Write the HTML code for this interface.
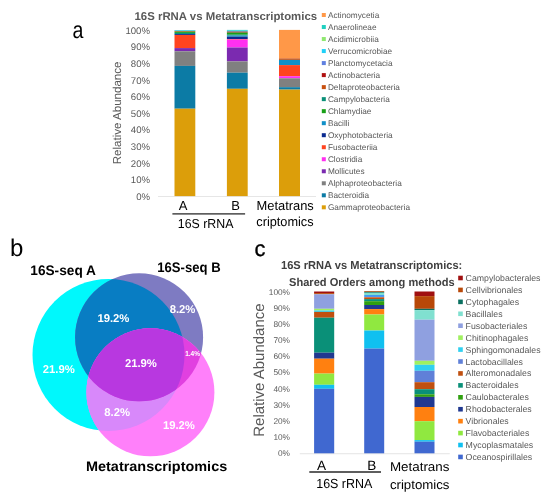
<!DOCTYPE html>
<html lang="en"><head><meta charset="utf-8"><title>16S rRNA vs Metatranscriptomics</title>
<style>html,body{margin:0;padding:0;background:#fff;}body{width:550px;height:495px;overflow:hidden;}svg{display:block;font-family:"Liberation Sans",sans-serif;text-rendering:geometricPrecision;}</style>
</head><body>
<svg width="550" height="495" viewBox="0 0 550 495">
<rect width="550" height="495" fill="#fff"/>
<g id="panel-a">
<text x="72.4" y="38.4" font-size="23.8" fill="#000" textLength="10.9" lengthAdjust="spacingAndGlyphs">a</text>
<text x="134.5" y="20.2" font-size="11.4" font-weight="bold" fill="#595959" textLength="182.6" lengthAdjust="spacingAndGlyphs">16S rRNA vs Metatranscriptomics</text>
<text x="150" y="33.70" font-size="9.6" fill="#595959" text-anchor="end">100%</text>
<text x="150" y="50.31" font-size="9.6" fill="#595959" text-anchor="end">90%</text>
<text x="150" y="66.92" font-size="9.6" fill="#595959" text-anchor="end">80%</text>
<text x="150" y="83.53" font-size="9.6" fill="#595959" text-anchor="end">70%</text>
<text x="150" y="100.14" font-size="9.6" fill="#595959" text-anchor="end">60%</text>
<text x="150" y="116.75" font-size="9.6" fill="#595959" text-anchor="end">50%</text>
<text x="150" y="133.36" font-size="9.6" fill="#595959" text-anchor="end">40%</text>
<text x="150" y="149.97" font-size="9.6" fill="#595959" text-anchor="end">30%</text>
<text x="150" y="166.58" font-size="9.6" fill="#595959" text-anchor="end">20%</text>
<text x="150" y="183.19" font-size="9.6" fill="#595959" text-anchor="end">10%</text>
<text x="150" y="199.80" font-size="9.6" fill="#595959" text-anchor="end">0%</text>
<text transform="translate(121.1,112.9) rotate(-90)" font-size="11.5" fill="#595959" text-anchor="middle" textLength="102.8" lengthAdjust="spacingAndGlyphs">Relative Abundance</text>
<rect x="158" y="196" width="158" height="0.9" fill="#e4e4e4"/>
<rect x="174.50" y="30.00" width="20.80" height="0.40" fill="#808080"/>
<rect x="174.50" y="30.40" width="20.80" height="0.60" fill="#20D0F8"/>
<rect x="174.50" y="31.00" width="20.80" height="0.70" fill="#C85010"/>
<rect x="174.50" y="31.70" width="20.80" height="1.20" fill="#18A018"/>
<rect x="174.50" y="32.90" width="20.80" height="1.20" fill="#0A9078"/>
<rect x="174.50" y="34.10" width="20.80" height="0.90" fill="#0A2A90"/>
<rect x="174.50" y="35.00" width="20.80" height="13.10" fill="#FF4420"/>
<rect x="174.50" y="48.10" width="20.80" height="3.20" fill="#7B2AB0"/>
<rect x="174.50" y="51.30" width="20.80" height="14.60" fill="#808080"/>
<rect x="174.50" y="65.90" width="20.80" height="42.80" fill="#0C7BA5"/>
<rect x="174.50" y="108.70" width="20.80" height="87.40" fill="#DC9E0A"/>
<rect x="226.90" y="29.90" width="20.80" height="0.80" fill="#20D0C0"/>
<rect x="226.90" y="30.70" width="20.80" height="0.90" fill="#20D0F8"/>
<rect x="226.90" y="31.60" width="20.80" height="1.00" fill="#B01010"/>
<rect x="226.90" y="32.60" width="20.80" height="2.10" fill="#18A018"/>
<rect x="226.90" y="34.70" width="20.80" height="0.90" fill="#0A9078"/>
<rect x="226.90" y="35.60" width="20.80" height="1.10" fill="#1090C8"/>
<rect x="226.90" y="36.70" width="20.80" height="2.30" fill="#0A2A90"/>
<rect x="226.90" y="39.00" width="20.80" height="0.60" fill="#FF4420"/>
<rect x="226.90" y="39.60" width="20.80" height="7.90" fill="#FF30F0"/>
<rect x="226.90" y="47.50" width="20.80" height="13.90" fill="#7B2AB0"/>
<rect x="226.90" y="61.40" width="20.80" height="11.30" fill="#808080"/>
<rect x="226.90" y="72.70" width="20.80" height="16.10" fill="#0C7BA5"/>
<rect x="226.90" y="88.80" width="20.80" height="107.30" fill="#DC9E0A"/>
<rect x="279.00" y="29.90" width="21.00" height="28.50" fill="#FF9848"/>
<rect x="279.00" y="58.40" width="21.00" height="1.50" fill="#D05010"/>
<rect x="279.00" y="59.90" width="21.00" height="5.20" fill="#1090C8"/>
<rect x="279.00" y="65.10" width="21.00" height="11.10" fill="#FF4420"/>
<rect x="279.00" y="76.20" width="21.00" height="2.10" fill="#FF30F0"/>
<rect x="279.00" y="78.30" width="21.00" height="8.90" fill="#808080"/>
<rect x="279.00" y="87.20" width="21.00" height="2.40" fill="#0C7BA5"/>
<rect x="279.00" y="89.60" width="21.00" height="106.50" fill="#DC9E0A"/>
<text x="183" y="210.3" font-size="13" fill="#000" text-anchor="middle">A</text>
<text x="235.6" y="210.2" font-size="13" fill="#000" text-anchor="middle">B</text>
<rect x="172.4" y="213.3" width="72.7" height="1.2" fill="#1a1a1a"/>
<text x="177.8" y="227.5" font-size="13" fill="#000" textLength="55.6" lengthAdjust="spacingAndGlyphs">16S rRNA</text>
<text x="256.5" y="209.8" font-size="13" fill="#000" textLength="57.3" lengthAdjust="spacingAndGlyphs">Metatrans</text>
<text x="256.3" y="226.2" font-size="13" fill="#000" textLength="57.3" lengthAdjust="spacingAndGlyphs">criptomics</text>
<rect x="321.8" y="13.00" width="4" height="4" fill="#FF9848"/>
<text x="327.9" y="17.90" font-size="8.25" fill="#595959">Actinomycetia</text>
<rect x="321.8" y="25.02" width="4" height="4" fill="#20D0C0"/>
<text x="327.9" y="29.92" font-size="8.25" fill="#595959">Anaerolineae</text>
<rect x="321.8" y="37.04" width="4" height="4" fill="#90E870"/>
<text x="327.9" y="41.94" font-size="8.25" fill="#595959">Acidimicrobiia</text>
<rect x="321.8" y="49.06" width="4" height="4" fill="#20D0F8"/>
<text x="327.9" y="53.96" font-size="8.25" fill="#595959">Verrucomicrobiae</text>
<rect x="321.8" y="61.08" width="4" height="4" fill="#6080E0"/>
<text x="327.9" y="65.98" font-size="8.25" fill="#595959">Planctomycetacia</text>
<rect x="321.8" y="73.10" width="4" height="4" fill="#B01010"/>
<text x="327.9" y="78.00" font-size="8.25" fill="#595959">Actinobacteria</text>
<rect x="321.8" y="85.12" width="4" height="4" fill="#C85010"/>
<text x="327.9" y="90.02" font-size="8.25" fill="#595959">Deltaproteobacteria</text>
<rect x="321.8" y="97.14" width="4" height="4" fill="#0A9078"/>
<text x="327.9" y="102.04" font-size="8.25" fill="#595959">Campylobacteria</text>
<rect x="321.8" y="109.16" width="4" height="4" fill="#18A018"/>
<text x="327.9" y="114.06" font-size="8.25" fill="#595959">Chlamydiae</text>
<rect x="321.8" y="121.18" width="4" height="4" fill="#1090C8"/>
<text x="327.9" y="126.08" font-size="8.25" fill="#595959">Bacilli</text>
<rect x="321.8" y="133.20" width="4" height="4" fill="#0A2A90"/>
<text x="327.9" y="138.10" font-size="8.25" fill="#595959">Oxyphotobacteria</text>
<rect x="321.8" y="145.22" width="4" height="4" fill="#FF4420"/>
<text x="327.9" y="150.12" font-size="8.25" fill="#595959">Fusobacteriia</text>
<rect x="321.8" y="157.24" width="4" height="4" fill="#FF30F0"/>
<text x="327.9" y="162.14" font-size="8.25" fill="#595959">Clostridia</text>
<rect x="321.8" y="169.26" width="4" height="4" fill="#7B2AB0"/>
<text x="327.9" y="174.16" font-size="8.25" fill="#595959">Mollicutes</text>
<rect x="321.8" y="181.28" width="4" height="4" fill="#808080"/>
<text x="327.9" y="186.18" font-size="8.25" fill="#595959">Alphaproteobacteria</text>
<rect x="321.8" y="193.30" width="4" height="4" fill="#0C7BA5"/>
<text x="327.9" y="198.20" font-size="8.25" fill="#595959">Bacteroidia</text>
<rect x="321.8" y="205.32" width="4" height="4" fill="#DC9E0A"/>
<text x="327.9" y="210.22" font-size="8.25" fill="#595959">Gammaproteobacteria</text>
</g>
<g id="panel-b">
<text x="10" y="255.8" font-size="24" fill="#000">b</text>
<defs>
<clipPath id="clipA"><circle cx="108.5" cy="355.0" r="76.0"/></clipPath>
<clipPath id="clipB"><circle cx="139.1" cy="337.3" r="64.0"/></clipPath>
<clipPath id="clipM"><circle cx="150.4" cy="392.3" r="64.0"/></clipPath>
</defs>
<circle cx="108.5" cy="355.0" r="76.0" fill="#00F8FC"/>
<circle cx="139.1" cy="337.3" r="64.0" fill="#7E7BC2"/>
<circle cx="150.4" cy="392.3" r="64.0" fill="#FF80FA"/>
<g clip-path="url(#clipA)"><circle cx="139.1" cy="337.3" r="64.0" fill="#087DC3"/><circle cx="150.4" cy="392.3" r="64.0" fill="#D888FA"/></g>
<g clip-path="url(#clipB)"><circle cx="150.4" cy="392.3" r="64.0" fill="#E140E0"/></g>
<g clip-path="url(#clipA)"><g clip-path="url(#clipB)"><circle cx="150.4" cy="392.3" r="64.0" fill="#B838E0"/></g></g>
<text x="30.3" y="275.4" font-size="13.8" font-weight="bold" fill="#000" textLength="65.6" lengthAdjust="spacingAndGlyphs">16S-seq A</text>
<text x="157.3" y="271.5" font-size="13.8" font-weight="bold" fill="#000" textLength="63.3" lengthAdjust="spacingAndGlyphs">16S-seq B</text>
<text x="86" y="471.1" font-size="13.9" font-weight="bold" fill="#000" textLength="141.2" lengthAdjust="spacingAndGlyphs">Metatranscriptomics</text>
<text x="113.4" y="321.8" font-size="11.3" font-weight="bold" fill="#fff" text-anchor="middle">19.2%</text>
<text x="182.5" y="312.6" font-size="11.3" font-weight="bold" fill="#fff" text-anchor="middle">8.2%</text>
<text x="58.8" y="373.2" font-size="11.3" font-weight="bold" fill="#fff" text-anchor="middle">21.9%</text>
<text x="140.9" y="366.5" font-size="11.3" font-weight="bold" fill="#fff" text-anchor="middle">21.9%</text>
<text x="117.2" y="415.7" font-size="11.3" font-weight="bold" fill="#fff" text-anchor="middle">8.2%</text>
<text x="178.9" y="428.7" font-size="11.3" font-weight="bold" fill="#fff" text-anchor="middle">19.2%</text>
<text x="185.2" y="356.2" font-size="7.2" font-weight="bold" fill="#fff" textLength="14.8" lengthAdjust="spacingAndGlyphs">1.4%</text>
</g>
<g id="panel-c">
<text x="254.5" y="255.8" font-size="21.9" fill="#000" stroke="#000" stroke-width="0.35">c</text>
<text x="281" y="269.3" font-size="11.5" font-weight="bold" fill="#404040" textLength="181.3" lengthAdjust="spacingAndGlyphs">16S rRNA vs Metatranscriptomics:</text>
<text x="289" y="285.6" font-size="11.5" font-weight="bold" fill="#404040" textLength="165.6" lengthAdjust="spacingAndGlyphs">Shared Orders among methods</text>
<text x="290" y="294.65" font-size="8.3" fill="#595959" text-anchor="end">100%</text>
<text x="290" y="310.81" font-size="8.3" fill="#595959" text-anchor="end">90%</text>
<text x="290" y="326.97" font-size="8.3" fill="#595959" text-anchor="end">80%</text>
<text x="290" y="343.13" font-size="8.3" fill="#595959" text-anchor="end">70%</text>
<text x="290" y="359.29" font-size="8.3" fill="#595959" text-anchor="end">60%</text>
<text x="290" y="375.45" font-size="8.3" fill="#595959" text-anchor="end">50%</text>
<text x="290" y="391.61" font-size="8.3" fill="#595959" text-anchor="end">40%</text>
<text x="290" y="407.77" font-size="8.3" fill="#595959" text-anchor="end">30%</text>
<text x="290" y="423.93" font-size="8.3" fill="#595959" text-anchor="end">20%</text>
<text x="290" y="440.09" font-size="8.3" fill="#595959" text-anchor="end">10%</text>
<text x="290" y="456.25" font-size="8.3" fill="#595959" text-anchor="end">0%</text>
<text transform="translate(263.9,370.1) rotate(-90)" font-size="15" fill="#595959" text-anchor="middle" textLength="133.3" lengthAdjust="spacingAndGlyphs">Relative Abundance</text>
<rect x="299.8" y="453.3" width="150" height="0.9" fill="#e2e2e2"/>
<rect x="314.10" y="291.50" width="20.10" height="1.60" fill="#A01010"/>
<rect x="314.10" y="293.10" width="20.10" height="1.20" fill="#B84808"/>
<rect x="314.10" y="294.30" width="20.10" height="14.50" fill="#8FA0E0"/>
<rect x="314.10" y="308.80" width="20.10" height="1.70" fill="#A0F060"/>
<rect x="314.10" y="310.50" width="20.10" height="1.40" fill="#30D0F0"/>
<rect x="314.10" y="311.90" width="20.10" height="5.80" fill="#C05010"/>
<rect x="314.10" y="317.70" width="20.10" height="35.00" fill="#0A9078"/>
<rect x="314.10" y="352.70" width="20.10" height="6.00" fill="#203890"/>
<rect x="314.10" y="358.70" width="20.10" height="14.90" fill="#FF8010"/>
<rect x="314.10" y="373.60" width="20.10" height="11.20" fill="#90E840"/>
<rect x="314.10" y="384.80" width="20.10" height="4.00" fill="#10C0F0"/>
<rect x="314.10" y="388.80" width="20.10" height="64.50" fill="#4068D0"/>
<rect x="364.20" y="291.10" width="20.00" height="0.80" fill="#B84808"/>
<rect x="364.20" y="291.90" width="20.00" height="0.90" fill="#0A7060"/>
<rect x="364.20" y="292.80" width="20.00" height="2.30" fill="#80E0D0"/>
<rect x="364.20" y="295.10" width="20.00" height="1.80" fill="#3090F0"/>
<rect x="364.20" y="296.90" width="20.00" height="0.40" fill="#8FA0E0"/>
<rect x="364.20" y="297.30" width="20.00" height="1.80" fill="#C05010"/>
<rect x="364.20" y="299.10" width="20.00" height="2.10" fill="#0A9078"/>
<rect x="364.20" y="301.20" width="20.00" height="3.80" fill="#30A010"/>
<rect x="364.20" y="305.00" width="20.00" height="4.10" fill="#203890"/>
<rect x="364.20" y="309.10" width="20.00" height="5.40" fill="#FF8010"/>
<rect x="364.20" y="314.50" width="20.00" height="16.00" fill="#90E840"/>
<rect x="364.20" y="330.50" width="20.00" height="18.10" fill="#10C0F0"/>
<rect x="364.20" y="348.60" width="20.00" height="104.70" fill="#4068D0"/>
<rect x="414.50" y="291.50" width="20.00" height="4.60" fill="#A01010"/>
<rect x="414.50" y="296.10" width="20.00" height="12.70" fill="#B84808"/>
<rect x="414.50" y="308.80" width="20.00" height="1.30" fill="#0A7060"/>
<rect x="414.50" y="310.10" width="20.00" height="9.60" fill="#80E0D0"/>
<rect x="414.50" y="319.70" width="20.00" height="41.10" fill="#8FA0E0"/>
<rect x="414.50" y="360.80" width="20.00" height="4.00" fill="#A0F060"/>
<rect x="414.50" y="364.80" width="20.00" height="6.00" fill="#30D0F0"/>
<rect x="414.50" y="370.80" width="20.00" height="11.40" fill="#6080D8"/>
<rect x="414.50" y="382.20" width="20.00" height="7.00" fill="#C05010"/>
<rect x="414.50" y="389.20" width="20.00" height="5.10" fill="#0A9078"/>
<rect x="414.50" y="394.30" width="20.00" height="2.60" fill="#30A010"/>
<rect x="414.50" y="396.90" width="20.00" height="10.10" fill="#203890"/>
<rect x="414.50" y="407.00" width="20.00" height="14.20" fill="#FF8010"/>
<rect x="414.50" y="421.20" width="20.00" height="18.90" fill="#90E840"/>
<rect x="414.50" y="440.10" width="20.00" height="1.60" fill="#10C0F0"/>
<rect x="414.50" y="441.70" width="20.00" height="11.60" fill="#4068D0"/>
<text x="321.6" y="469.6" font-size="13.6" fill="#000" text-anchor="middle">A</text>
<text x="371.9" y="469.6" font-size="13.6" fill="#000" text-anchor="middle">B</text>
<rect x="309.3" y="471.3" width="71.7" height="1.4" fill="#1a1a1a"/>
<text x="316.2" y="488" font-size="13.2" fill="#000" textLength="56.2" lengthAdjust="spacingAndGlyphs">16S rRNA</text>
<text x="389.9" y="471.4" font-size="12.8" fill="#000" textLength="59.6" lengthAdjust="spacingAndGlyphs">Metatrans</text>
<text x="389.9" y="488.7" font-size="12.8" fill="#000" textLength="59.6" lengthAdjust="spacingAndGlyphs">criptomics</text>
<rect x="458.2" y="275.70" width="4.6" height="4.6" fill="#A01010"/>
<text x="465.6" y="281.00" font-size="8.75" fill="#595959">Campylobacterales</text>
<rect x="458.2" y="287.63" width="4.6" height="4.6" fill="#B84808"/>
<text x="465.6" y="292.93" font-size="8.75" fill="#595959">Cellvibrionales</text>
<rect x="458.2" y="299.56" width="4.6" height="4.6" fill="#0A7060"/>
<text x="465.6" y="304.86" font-size="8.75" fill="#595959">Cytophagales</text>
<rect x="458.2" y="311.49" width="4.6" height="4.6" fill="#80E0D0"/>
<text x="465.6" y="316.79" font-size="8.75" fill="#595959">Bacillales</text>
<rect x="458.2" y="323.42" width="4.6" height="4.6" fill="#8FA0E0"/>
<text x="465.6" y="328.72" font-size="8.75" fill="#595959">Fusobacteriales</text>
<rect x="458.2" y="335.35" width="4.6" height="4.6" fill="#A0F060"/>
<text x="465.6" y="340.65" font-size="8.75" fill="#595959">Chitinophagales</text>
<rect x="458.2" y="347.28" width="4.6" height="4.6" fill="#30D0F0"/>
<text x="465.6" y="352.58" font-size="8.75" fill="#595959">Sphingomonadales</text>
<rect x="458.2" y="359.21" width="4.6" height="4.6" fill="#6080D8"/>
<text x="465.6" y="364.51" font-size="8.75" fill="#595959">Lactobacillales</text>
<rect x="458.2" y="371.14" width="4.6" height="4.6" fill="#C05010"/>
<text x="465.6" y="376.44" font-size="8.75" fill="#595959">Alteromonadales</text>
<rect x="458.2" y="383.07" width="4.6" height="4.6" fill="#0A9078"/>
<text x="465.6" y="388.37" font-size="8.75" fill="#595959">Bacteroidales</text>
<rect x="458.2" y="395.00" width="4.6" height="4.6" fill="#30A010"/>
<text x="465.6" y="400.30" font-size="8.75" fill="#595959">Caulobacterales</text>
<rect x="458.2" y="406.93" width="4.6" height="4.6" fill="#203890"/>
<text x="465.6" y="412.23" font-size="8.75" fill="#595959">Rhodobacterales</text>
<rect x="458.2" y="418.86" width="4.6" height="4.6" fill="#FF8010"/>
<text x="465.6" y="424.16" font-size="8.75" fill="#595959">Vibrionales</text>
<rect x="458.2" y="430.79" width="4.6" height="4.6" fill="#90E840"/>
<text x="465.6" y="436.09" font-size="8.75" fill="#595959">Flavobacteriales</text>
<rect x="458.2" y="442.72" width="4.6" height="4.6" fill="#10C0F0"/>
<text x="465.6" y="448.02" font-size="8.75" fill="#595959">Mycoplasmatales</text>
<rect x="458.2" y="454.65" width="4.6" height="4.6" fill="#4068D0"/>
<text x="465.6" y="459.95" font-size="8.75" fill="#595959">Oceanospirillales</text>
</g>
</svg></body></html>
